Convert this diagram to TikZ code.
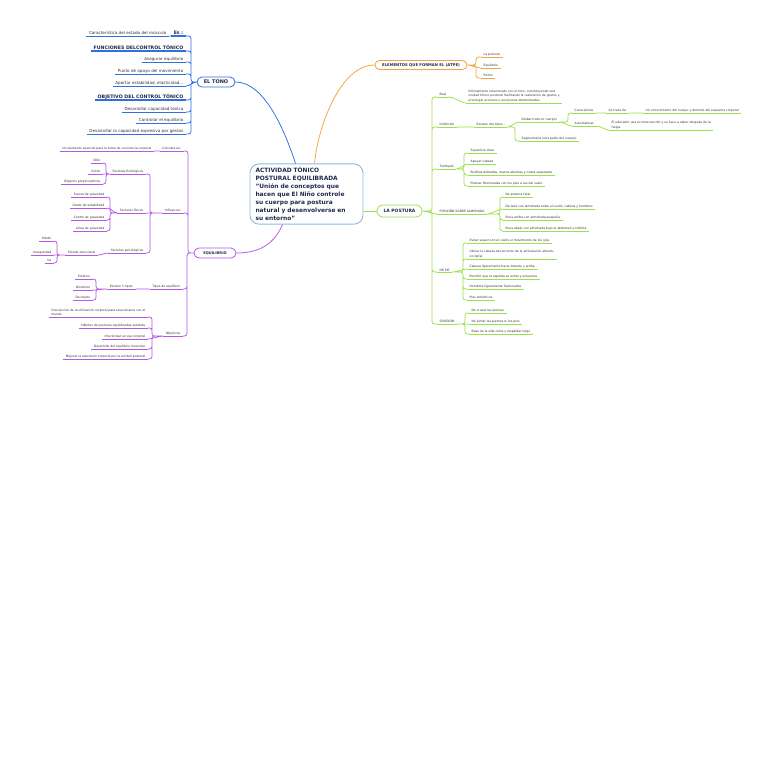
\documentclass[tikz,border=0pt]{standalone}
\usepackage{fontspec}
\setmainfont{DejaVu Sans}
\usetikzlibrary{shapes.misc}
\definecolor{cblue}{HTML}{2F6FE0}
\definecolor{corange}{HTML}{F2A53C}
\definecolor{cgreen}{HTML}{9BE24A}
\definecolor{cpurple}{HTML}{B558E8}
\definecolor{cbord}{HTML}{8CB9DC}
\definecolor{txt}{HTML}{333333}
\definecolor{navy}{HTML}{1E2B4A}
\newcommand\fa{\fontsize{4.1}{5}\selectfont}
\newcommand\fab{\fontsize{4.7}{5.4}\selectfont\bfseries}
\newcommand\fb{\fontsize{3.05}{4.5}\selectfont}
\newcommand\fcen{\fontsize{5.9}{8}\selectfont\bfseries}
\tikzset{
 tp/.style={inner xsep=2.5pt, inner ysep=0.8pt, text=txt, align=left, font=\fb},
 rs/.style={tp, anchor=south west},
 ls/.style={tp, anchor=south east},
 lt/.style={ls, font=\fa},
 ltb/.style={ls, font=\fab, text=navy},
 pill/.style={rounded rectangle, draw, line width=0.8pt, fill=white, inner sep=0pt, text=navy},
 cn/.style={line width=0.75pt, rounded corners=2.5pt},
 ul/.style={line width=0.75pt},
 spine/.style={to path={-| ([xshift=#1]\tikztotarget) -- (\tikztotarget)}},
 bzr/.style={to path={.. controls +(4,0) and +(-4,0) .. (\tikztotarget)}},
 bzl/.style={to path={.. controls +(-4,0) and +(4,0) .. (\tikztotarget)}},
 cbox/.style={draw=cbord, line width=0.9pt, rounded corners=9pt, fill=white, minimum width=113pt, minimum height=60pt, text width=102pt, align=left, text=navy, font=\fcen}
}
\begin{document}
\begin{tikzpicture}[x=1pt,y=-1pt]
\fill[white] (0,0) rectangle (768,774);
\useasboundingbox (0,0) rectangle (768,774);

% central
\node[cbox] (ctr) at (306.5,194) {ACTIVIDAD TÓNICO\\POSTURAL EQUILIBRADA\\"Unión de conceptos que\\hacen que El Niño controle\\su cuerpo para postura\\natural y desenvolverse en\\su entorno"};

% main topics
\node[pill, draw=cblue, minimum width=38pt, minimum height=10pt, font=\fontsize{5}{6}\selectfont\bfseries] (tono) at (216,82) {EL TONO};
\node[pill, draw=cpurple, minimum width=42pt, minimum height=10pt, font=\fontsize{3.6}{4}\selectfont\bfseries] (equi) at (215,253) {EQUILIBRIO};
\node[pill, draw=cgreen, minimum width=45pt, minimum height=12pt, font=\fontsize{4.5}{5}\selectfont\bfseries] (pos) at (399.5,211) {LA POSTURA};
\node[pill, draw=corange, minimum width=92pt, minimum height=9pt, font=\fontsize{3.8}{4.4}\selectfont\bfseries] (elm) at (421,65) {ELEMENTOS QUE FORMAN EL (ATPE)};

% EL TONO branch
\node[ltb] (es) at (186,36) {Es :};
\node[lt] (car) at (169,36) {Característica del estado del músculo};
\node[ltb] (fun) at (186,51) {FUNCIONES DELCONTROL TÓNICO};
\node[lt] (ase) at (186,62) {Asegurar equilibrio};
\node[lt] (pun) at (186,74) {Punto de apoyo del movimiento};
\node[lt] (apo) at (186,86) {Aportar estabilidad, elasticidad...};
\node[ltb] (obj) at (186,100) {OBJETIVO DEL CONTROL TÓNICO};
\node[lt] (dcap) at (186,112) {Desarrollar capacidad tónica};
\node[lt] (ceq) at (186,123) {Controlar el equilibrio};
\node[lt] (dexp) at (186,134) {Desarrollar la capacidad expresiva por gestos};

% EQUILIBRIO branch
\node[ls] (cons) at (184,151) {Consiste en:};
\node[ls] (elem) at (154,151) {Un elemento esencial para la toma de conciencia corporal};
\node[ls] (infl) at (184,213) {Influye en:};
\node[ls] (ffis) at (146,174) {Factores fisiológicos};
\node[ls] (oido) at (103,163) {Oído};
\node[ls] (vis) at (103,174) {Visión};
\node[ls] (org) at (103,184) {Órganos propioceptivos};
\node[ls] (ffi) at (146,213) {Factores físicos};
\node[ls] (fue) at (107,197) {Fuerza de gravedad};
\node[ls] (gra) at (107,208) {Grado de estabilidad};
\node[ls] (cen) at (107,220) {Centro de gravedad};
\node[ls] (lin) at (107,231) {Línea de gravedad};
\node[ls] (fps) at (146,253) {Factores psicológicos};
\node[ls] (est) at (98,255) {Estado emocional};
\node[ls] (mie) at (54,241) {Miedo};
\node[ls] (ins) at (54,255) {Inseguridad};
\node[ls] (ira) at (54,263) {Ira};
\node[ls] (tip) at (183,289) {Tipos de equilibrio};
\node[ls] (exi) at (136,289) {Existen 3 tipos:};
\node[ls] (esta) at (93,279) {Estático};
\node[ls] (din) at (93,290) {Dinámico};
\node[ls] (deo) at (93,300) {De objeto};
\node[ls] (obs) at (183,336) {Objetivos};
\node[ls] (conc) at (148,317) {Concienciar de la utilización corporal para relacionarse con el\\mundo};
\node[ls] (hab) at (148,328) {Hábitos de posturas equilibradas estables};
\node[ls] (inte) at (148,339) {Interiorizar un eje corporal};
\node[ls] (desa) at (148,349) {Desarrollo del equilibrio muscular};
\node[ls] (mej) at (148,359) {Mejorar la expresión corporal por la actitud postural};

% ELEMENTOS branch
\node[rs] (lap) at (481,57) {La postura};
\node[rs] (equ) at (481,68) {Equilibrio};
\node[rs] (rit) at (481,78) {Ritmo};

% LA POSTURA branch
\node[rs] (real) at (437,97) {Real};
\node[rs] (intim) at (466,103) {Íntimamente relacionado con el tono, constituyendo una\\unidad tónico postural facilitando la realización de gestos y\\prolongar acciones o posiciones determinadas};
\node[rs] (inh) at (437,127) {Inhibición};
\node[rs] (dos) at (474,127) {Existen dos tipos :};
\node[rs] (glo) at (519,122) {Global (todo el cuerpo)};
\node[rs] (seg) at (519,141) {Segmentaria (una parte del cuerpo)};
\node[rs] (cns) at (572,113) {Conscientes};
\node[rs] (aut) at (572,126) {Automáticas};
\node[rs] (setr) at (606,113) {Se trata de:};
\node[rs] (unc) at (643,113) {Un conocimiento del cuerpo y dominio del esquema corporal};
\node[rs] (edu) at (609,130) {El educador usa su intervención y se hace a saber después de la\\fatiga};
\node[rs] (tum) at (437,169) {Tumbado};
\node[rs] (sup) at (468,153) {Superficie dura};
\node[rs] (apc) at (468,164) {Apoyar cabeza};
\node[rs] (rod) at (468,175) {Rodillas dobladas, manos abiertas y codos separados};
\node[rs] (pie) at (468,186) {Piernas flexionadas con los pies a ras del suelo};
\node[rs] (psa) at (437,214) {POSICIÓN SOBRE ALMOHADA};
\node[rs] (fet) at (503,197) {No postura fetal};
\node[rs] (lad) at (503,209) {De lado con almohada entre el cuello, cabeza y hombros};
\node[rs] (arr) at (503,220) {Boca arriba con almohada pequeña};
\node[rs] (aba) at (503,231) {Boca abajo con almohada bajo el abdomen y tobillos};
\node[rs] (dep) at (437,272) {DE PIE};
\node[rs] (evi) at (467,243) {Evitar seguir con el cuello el movimiento de los ojos};
\node[rs] (ubi) at (467,259) {Ubicar la cabeza del encierro de la articulación atlanto-\\occipital};
\node[rs] (cab) at (467,269) {Cabeza ligeramente hacia delante y arriba};
\node[rs] (per) at (467,279) {Permitir que la espalda se estire y ensanche};
\node[rs] (hom) at (467,289) {Hombros ligeramente flexionados};
\node[rs] (psi) at (467,300) {Pies simétricos};
\node[rs] (sen) at (437,324) {SENTADO};
\node[rs] (ncr) at (469,313) {No cruzar las piernas};
\node[rs] (nju) at (469,324) {No juntar las piernas ni los pies};
\node[rs] (bas) at (469,334) {Base de la silla corta y respaldar largo};

% underlines
\foreach \n in {car,ase,pun,apo,dcap,ceq,dexp}
  \draw[ul, cblue] (\n.south west) -- (\n.south east);
\foreach \n in {es,fun,obj}
  \draw[cblue, line width=1.6pt] (\n.south west) -- (\n.south east);
\foreach \n in {cons,elem,infl,ffis,oido,vis,org,ffi,fue,gra,cen,lin,fps,est,mie,ins,ira,tip,exi,esta,din,deo,obs,conc,hab,inte,desa,mej}
  \draw[ul, cpurple] (\n.south west) -- (\n.south east);
\foreach \n in {lap,equ,rit}
  \draw[ul, corange] (\n.south west) -- (\n.south east);
\foreach \n in {real,intim,inh,dos,glo,seg,cns,aut,setr,unc,edu,tum,sup,apc,rod,pie,psa,fet,lad,arr,aba,dep,evi,ubi,cab,per,hom,psi,sen,ncr,nju,bas}
  \draw[ul, cgreen] (\n.south west) -- (\n.south east);

% main connectors
\draw[cn, cblue] ([xshift=46pt]ctr.north west) .. controls +(-10,-30) and +(30,0) .. (tono.east);
\draw[cn, corange] ([xshift=65pt]ctr.north west) .. controls +(3,-35) and +(-35,0) .. (elm.west);
\draw[cn, cgreen] (ctr.east |- pos.west) -- (pos.west);
\draw[cn, cpurple] ([xshift=33pt]ctr.south west) .. controls +(-8,18) and +(25,0) .. (equi.east);

% EL TONO connectors
\draw[cn, cblue]
  (tono.west) to[spine=5pt] (es.south east)
  (tono.west) to[spine=5pt] (fun.south east)
  (tono.west) to[spine=5pt] (ase.south east)
  (tono.west) to[spine=5pt] (pun.south east)
  (tono.west) to[bzl] (apo.south east)
  (tono.west) to[spine=5pt] (obj.south east)
  (tono.west) to[spine=5pt] (dcap.south east)
  (tono.west) to[spine=5pt] (ceq.south east)
  (tono.west) to[spine=5pt] (dexp.south east)
  (es.south west) -- (car.south east);

% EQUILIBRIO connectors
\draw[cn, cpurple]
  (equi.west) to[spine=4pt] (cons.south east)
  (equi.west) to[spine=4pt] (infl.south east)
  (equi.west) to[spine=4pt] (tip.south east)
  (equi.west) to[spine=4pt] (obs.south east)
  (cons.south west) -- (elem.south east)
  (infl.south west) to[spine=4pt] (ffis.south east)
  (infl.south west) -- (ffi.south east)
  (infl.south west) to[spine=4pt] (fps.south east)
  (ffis.south west) to[spine=3pt] (oido.south east)
  (ffis.south west) -- (vis.south east)
  (ffis.south west) to[spine=3pt] (org.south east)
  (ffi.south west) to[spine=3pt] (fue.south east)
  (ffi.south west) to[bzl] (gra.south east)
  (ffi.south west) to[spine=3pt] (cen.south east)
  (ffi.south west) to[spine=3pt] (lin.south east)
  (fps.south west) to[bzl] (est.south east)
  (est.south west) to[spine=3pt] (mie.south east)
  (est.south west) -- (ins.south east)
  (est.south west) to[spine=3pt] (ira.south east)
  (tip.south west) -- (exi.south east)
  (exi.south west) to[spine=3pt] (esta.south east)
  (exi.south west) to[bzl] (din.south east)
  (exi.south west) to[spine=3pt] (deo.south east)
  (obs.south west) to[spine=4pt] (conc.south east)
  (obs.south west) to[spine=4pt] (hab.south east)
  (obs.south west) to[bzl] (inte.south east)
  (obs.south west) to[spine=4pt] (desa.south east)
  (obs.south west) to[spine=4pt] (mej.south east);

% ELEMENTOS connectors
\draw[cn, corange]
  (elm.east) to[spine=-5pt] (lap.south west)
  (elm.east) to[bzr] (equ.south west)
  (elm.east) to[spine=-5pt] (rit.south west);

% LA POSTURA connectors
\draw[cn, cgreen]
  (pos.east) to[spine=-5pt] (real.south west)
  (pos.east) to[spine=-5pt] (inh.south west)
  (pos.east) to[spine=-5pt] (tum.south west)
  (pos.east) to[bzr] (psa.south west)
  (pos.east) to[spine=-5pt] (dep.south west)
  (pos.east) to[spine=-5pt] (sen.south west)
  (real.south east) to[bzr] (intim.south west)
  (inh.south east) -- (dos.south west)
  (dos.south east) to[bzr] (glo.south west)
  (dos.south east) to[spine=-4pt] (seg.south west)
  (glo.south east) to[spine=-4pt] (cns.south west)
  (glo.south east) to[bzr] (aut.south west)
  (cns.south east) -- (setr.south west)
  (setr.south east) -- (unc.south west)
  (aut.south east) to[bzr] (edu.south west)
  (tum.south east) to[spine=-4pt] (sup.south west)
  (tum.south east) to[bzr] (apc.south west)
  (tum.south east) to[spine=-4pt] (rod.south west)
  (tum.south east) to[spine=-4pt] (pie.south west)
  (psa.south east) to[spine=-3pt] (fet.south west)
  (psa.south east) to[bzr] (lad.south west)
  (psa.south east) to[spine=-3pt] (arr.south west)
  (psa.south east) to[spine=-3pt] (aba.south west)
  (dep.south east) to[spine=-4pt] (evi.south west)
  (dep.south east) to[spine=-4pt] (ubi.south west)
  (dep.south east) to[bzr] (cab.south west)
  (dep.south east) to[spine=-4pt] (per.south west)
  (dep.south east) to[spine=-4pt] (hom.south west)
  (dep.south east) to[spine=-4pt] (psi.south west)
  (sen.south east) to[spine=-4pt] (ncr.south west)
  (sen.south east) -- (nju.south west)
  (sen.south east) to[spine=-4pt] (bas.south west);
\end{tikzpicture}
\end{document}
